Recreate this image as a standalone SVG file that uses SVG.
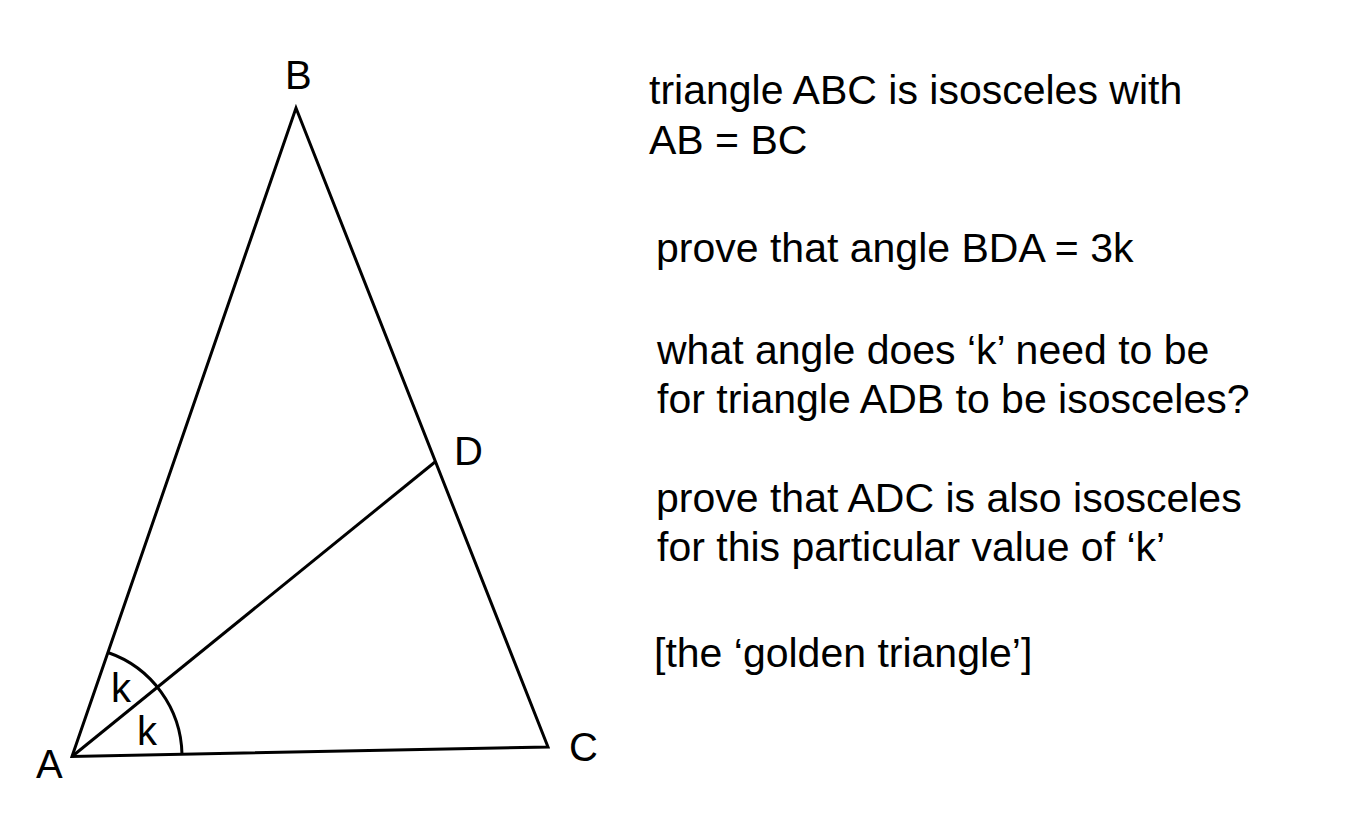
<svg xmlns="http://www.w3.org/2000/svg" width="1354" height="820" viewBox="0 0 1354 820">
<style>
.ln{fill:none;stroke:#000;stroke-width:3;stroke-linejoin:miter;stroke-linecap:butt}
.lbl{font-family:"Liberation Sans",Arial,sans-serif;font-size:40px;fill:#000}
.txt{font-family:"Liberation Sans",Arial,sans-serif;font-size:41px;fill:#000}
</style>
<rect width="1354" height="820" fill="#fff"/>
<g id="figure">
<polygon class="ln" points="72,756.5 296,108 548,747"/>
<line class="ln" x1="72" y1="756.5" x2="435" y2="462"/>
<path class="ln" d="M182,754.4 A110,110 0 0 0 107.9,652.5"/>
</g>
<g id="vertex-labels">
<text class="lbl" x="285" y="89">B</text>
<text class="lbl" x="454" y="465">D</text>
<text class="lbl" x="569" y="761">C</text>
<text class="lbl" x="36" y="778">A</text>
<text class="lbl" x="111" y="702">k</text>
<text class="lbl" x="137" y="745">k</text>
</g>
<g id="question-text">
<text class="txt" x="649" y="104">triangle ABC is isosceles with</text>
<text class="txt" x="649" y="154">AB = BC</text>
<text class="txt" x="656" y="262">prove that angle BDA = 3k</text>
<text class="txt" x="657" y="364">what angle does ‘k’ need to be</text>
<text class="txt" x="657" y="413">for triangle ADB to be isosceles?</text>
<text class="txt" x="656" y="512">prove that ADC is also isosceles</text>
<text class="txt" x="657" y="561">for this particular value of ‘k’</text>
<text class="txt" x="654" y="667">[the ‘golden triangle’]</text>
</g>
</svg>
